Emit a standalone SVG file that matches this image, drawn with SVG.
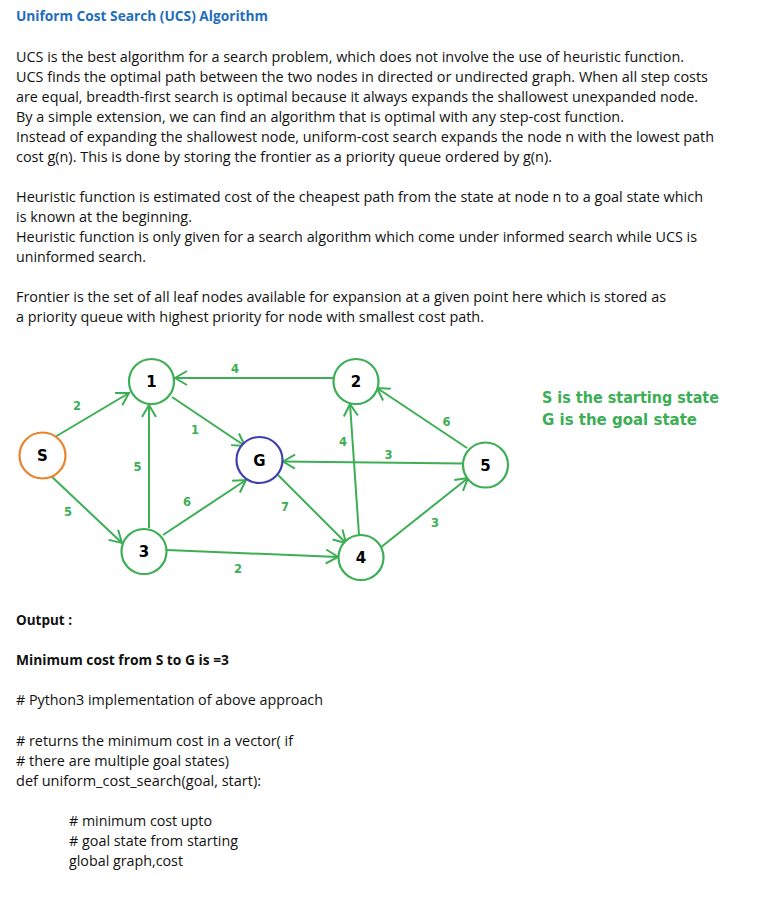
<svg xmlns="http://www.w3.org/2000/svg" width="776" height="910" viewBox="0 0 776 910">
<defs>
<style>
.t{font-family:"Open Sans","Noto Sans",sans-serif;font-size:14px;fill:#111}
.b{font-weight:bold}
.title{fill:#1f6dbd;font-weight:bold}
.edge{stroke:#3cae55;stroke-width:2;fill:none;marker-end:url(#ah)}
.node{fill:#fff;stroke:#3cae55;stroke-width:2.2}
.nl{font-family:"DejaVu Sans",sans-serif;font-weight:bold;font-size:15px;fill:#000;text-anchor:middle}
.el{font-family:"DejaVu Sans",sans-serif;font-weight:bold;font-size:11.5px;fill:#3cae55;text-anchor:middle}
.lg{font-family:"DejaVu Sans",sans-serif;font-weight:bold;font-size:15px;fill:#3cae55}
</style>
<marker id="ah" markerUnits="userSpaceOnUse" viewBox="-14 -9 16 18" refX="0" refY="0" markerWidth="16" markerHeight="18" orient="auto" overflow="visible">
<path d="M-12,-7 L0,0 L-12,7" fill="none" stroke="#3cae55" stroke-width="2"/>
</marker>
</defs>
<rect width="776" height="910" fill="#fff"/>
<g id="text">
<text class="t title" x="16" y="21" textLength="252" lengthAdjust="spacingAndGlyphs">Uniform Cost Search (UCS) Algorithm</text>
<text class="t" x="16" y="62" textLength="668" lengthAdjust="spacingAndGlyphs">UCS is the best algorithm for a search problem, which does not involve the use of heuristic function.</text>
<text class="t" x="16" y="82" textLength="692" lengthAdjust="spacingAndGlyphs">UCS finds the optimal path between the two nodes in directed or undirected graph. When all step costs</text>
<text class="t" x="16" y="102" textLength="682" lengthAdjust="spacingAndGlyphs">are equal, breadth-first search is optimal because it always expands the shallowest unexpanded node.</text>
<text class="t" x="16" y="122" textLength="608" lengthAdjust="spacingAndGlyphs">By a simple extension, we can find an algorithm that is optimal with any step-cost function.</text>
<text class="t" x="16" y="142" textLength="698" lengthAdjust="spacingAndGlyphs">Instead of expanding the shallowest node, uniform-cost search expands the node n with the lowest path</text>
<text class="t" x="16" y="162" textLength="536" lengthAdjust="spacingAndGlyphs">cost g(n). This is done by storing the frontier as a priority queue ordered by g(n).</text>
<text class="t" x="16" y="202" textLength="687" lengthAdjust="spacingAndGlyphs">Heuristic function is estimated cost of the cheapest path from the state at node n to a goal state which</text>
<text class="t" x="16" y="222" textLength="176" lengthAdjust="spacingAndGlyphs">is known at the beginning.</text>
<text class="t" x="16" y="242" textLength="681" lengthAdjust="spacingAndGlyphs">Heuristic function is only given for a search algorithm which come under informed search while UCS is</text>
<text class="t" x="16" y="262" textLength="130" lengthAdjust="spacingAndGlyphs">uninformed search.</text>
<text class="t" x="16" y="302" textLength="650" lengthAdjust="spacingAndGlyphs">Frontier is the set of all leaf nodes available for expansion at a given point here which is stored as</text>
<text class="t" x="16" y="322" textLength="468" lengthAdjust="spacingAndGlyphs">a priority queue with highest priority for node with smallest cost path.</text>
<text class="t b" x="16" y="625" textLength="56" lengthAdjust="spacingAndGlyphs">Output :</text>
<text class="t b" x="16" y="665" textLength="213" lengthAdjust="spacingAndGlyphs">Minimum cost from S to G is =3</text>
<text class="t" x="16" y="705" textLength="307" lengthAdjust="spacingAndGlyphs"># Python3 implementation of above approach</text>
<text class="t" x="16" y="746" textLength="277" lengthAdjust="spacingAndGlyphs"># returns the minimum cost in a vector( if</text>
<text class="t" x="16" y="766" textLength="213" lengthAdjust="spacingAndGlyphs"># there are multiple goal states)</text>
<text class="t" x="16" y="786" textLength="245" lengthAdjust="spacingAndGlyphs">def uniform_cost_search(goal, start):</text>
<text class="t" x="69" y="826" textLength="143" lengthAdjust="spacingAndGlyphs"># minimum cost upto</text>
<text class="t" x="69" y="846" textLength="169" lengthAdjust="spacingAndGlyphs"># goal state from starting</text>
<text class="t" x="69" y="866" textLength="114" lengthAdjust="spacingAndGlyphs">global graph,cost</text>
</g>
<g id="connectors">
<line class="edge" x1="55" y1="437" x2="129" y2="393"/>
<line class="edge" x1="50" y1="475" x2="122" y2="543"/>
<line class="edge" x1="149" y1="528" x2="149" y2="405"/>
<line class="edge" x1="172" y1="397" x2="245" y2="446"/>
<line class="edge" x1="163" y1="535" x2="246" y2="480"/>
<line class="edge" x1="167" y1="550" x2="338" y2="557"/>
<line class="edge" x1="278" y1="475" x2="346" y2="543"/>
<line class="edge" x1="333" y1="378" x2="175" y2="378"/>
<line class="edge" x1="359" y1="535" x2="350" y2="404"/>
<line class="edge" x1="463" y1="463.5" x2="283" y2="461.5"/>
<line class="edge" x1="467" y1="448" x2="377" y2="388"/>
<line class="edge" x1="380" y1="548" x2="468" y2="478"/>
<text class="el" x="77" y="410">2</text>
<text class="el" x="68" y="516">5</text>
<text class="el" x="137.5" y="471">5</text>
<text class="el" x="195" y="434">1</text>
<text class="el" x="187" y="505.5">6</text>
<text class="el" x="238" y="573">2</text>
<text class="el" x="285" y="510.5">7</text>
<text class="el" x="235" y="373">4</text>
<text class="el" x="343" y="445.5">4</text>
<text class="el" x="388.5" y="459">3</text>
<text class="el" x="446.5" y="425.5">6</text>
<text class="el" x="435" y="526.5">3</text>
</g>
<g id="node-S"><circle cx="42.5" cy="455.5" r="23" fill="#fff" stroke="#e8842c" stroke-width="2.2"/><text class="nl" x="42.5" y="461">S</text></g>
<g id="node-1"><circle class="node" cx="151.5" cy="381.5" r="22.5"/><text class="nl" x="151.5" y="387">1</text></g>
<g id="node-2"><circle class="node" cx="356" cy="381.5" r="22.5"/><text class="nl" x="356" y="387">2</text></g>
<g id="node-G"><circle cx="259.5" cy="460" r="23" fill="#fff" stroke="#3f3fb0" stroke-width="2.2"/><text class="nl" x="259.5" y="465.5">G</text></g>
<g id="node-3"><circle class="node" cx="144" cy="551.5" r="22.5"/><text class="nl" x="144" y="557">3</text></g>
<g id="node-4"><circle class="node" cx="361" cy="557.5" r="22.5"/><text class="nl" x="361" y="563">4</text></g>
<g id="node-5"><circle class="node" cx="485.5" cy="465" r="22.5"/><text class="nl" x="485.5" y="470.5">5</text></g>
<g id="legend">
<text class="lg" x="542" y="403" textLength="177" lengthAdjust="spacingAndGlyphs">S is the starting state</text>
<text class="lg" x="542" y="425" textLength="155" lengthAdjust="spacingAndGlyphs">G is the goal state</text>
</g>
</svg>
